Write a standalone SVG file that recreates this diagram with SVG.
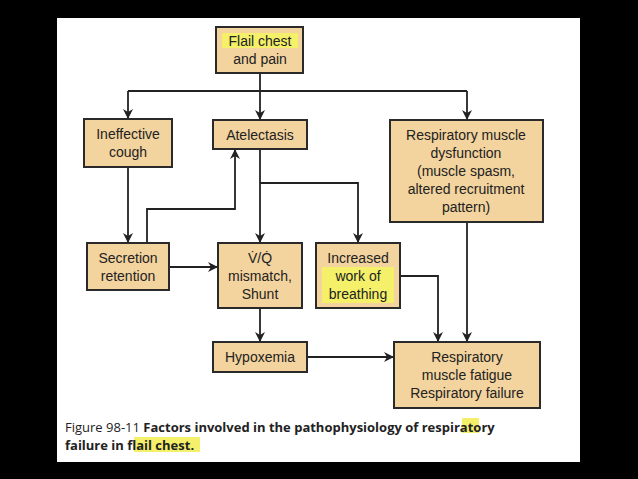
<svg xmlns="http://www.w3.org/2000/svg" width="638" height="479" viewBox="0 0 638 479">
<defs>
<marker id="ah" markerWidth="10" markerHeight="10" refX="9" refY="5" orient="auto" markerUnits="userSpaceOnUse"><path d="M0,0 L10,5 L0,10 L3,5 Z" fill="#222"/></marker>
<style>
.b{fill:#f3d39e;stroke:#2a2a2a;stroke-width:2}
.t{font-family:"Liberation Sans",Arial,sans-serif;font-size:14px;fill:#222;text-anchor:middle}
.hl{fill:#f4f06a}
.c{fill:none;stroke:#222;stroke-width:1.8;marker-end:url(#ah)}
.n{fill:none;stroke:#222;stroke-width:1.8}
.cap{font-family:"Open Sans","DejaVu Sans",sans-serif;font-size:13px;fill:#222}
</style>
</defs>
<rect width="638" height="479" fill="#000"/>
<rect x="57" y="18" width="523" height="444" fill="#fff"/>
<g id="connectors">
<path class="c" d="M260,73 V119"/>
<path class="n" d="M128,91 H467"/>
<path class="c" d="M128,91 V118"/>
<path class="c" d="M467,91 V119"/>
<path class="c" d="M128,167 V242"/>
<path class="c" d="M147,243 V209 H235 V150"/>
<path class="c" d="M260,149 V242"/>
<path class="c" d="M260,183 H358 V242"/>
<path class="c" d="M169,267 H217"/>
<path class="c" d="M260,308 V341"/>
<path class="c" d="M400,276 H438 V341"/>
<path class="c" d="M467,222 V341"/>
<path class="c" d="M307,357 H393"/>
</g>
<g id="flail"><rect class="b" x="216" y="27" width="87" height="46"/><rect class="hl" x="222" y="33" width="76" height="15"/><text class="t" x="260" y="46">Flail chest</text><text class="t" x="260" y="64">and pain</text></g>
<g id="cough"><rect class="b" x="84" y="119" width="88" height="48"/><text class="t" x="128" y="139">Ineffective</text><text class="t" x="128" y="157">cough</text></g>
<g id="atel"><rect class="b" x="213" y="120" width="94" height="29"/><text class="t" x="260" y="140">Atelectasis</text></g>
<g id="rmd"><rect class="b" x="390" y="120" width="153" height="102"/><text class="t" x="466" y="140">Respiratory muscle</text><text class="t" x="466" y="158">dysfunction</text><text class="t" x="466" y="176">(muscle spasm,</text><text class="t" x="466" y="194">altered recruitment</text><text class="t" x="466" y="212">pattern)</text></g>
<g id="secr"><rect class="b" x="87" y="243" width="82" height="47"/><text class="t" x="128" y="263">Secretion</text><text class="t" x="128" y="281">retention</text></g>
<g id="vq"><rect class="b" x="218" y="243" width="84" height="65"/><text class="t" x="260" y="263">V̇/Q̇</text><text class="t" x="260" y="281">mismatch,</text><text class="t" x="260" y="299">Shunt</text></g>
<g id="work"><rect class="b" x="316" y="243" width="84" height="65"/><rect class="hl" x="322" y="267" width="72" height="36"/><text class="t" x="358" y="263">Increased</text><text class="t" x="358" y="281">work of</text><text class="t" x="358" y="299">breathing</text></g>
<g id="hypox"><rect class="b" x="213" y="342" width="94" height="30"/><text class="t" x="260" y="362">Hypoxemia</text></g>
<g id="fail"><rect class="b" x="394" y="342" width="146" height="66"/><text class="t" x="467" y="362">Respiratory</text><text class="t" x="467" y="380">muscle fatigue</text><text class="t" x="467" y="398">Respiratory failure</text></g>
<rect class="hl" x="462" y="418" width="17" height="15"/>
<rect class="hl" x="134" y="437" width="66" height="15"/>
<text class="cap" x="65" y="432">Figure 98-11 <tspan font-weight="bold">Factors involved in the pathophysiology of respiratory</tspan></text>
<text class="cap" x="65" y="450" font-weight="bold">failure in flail chest.</text>
</svg>
